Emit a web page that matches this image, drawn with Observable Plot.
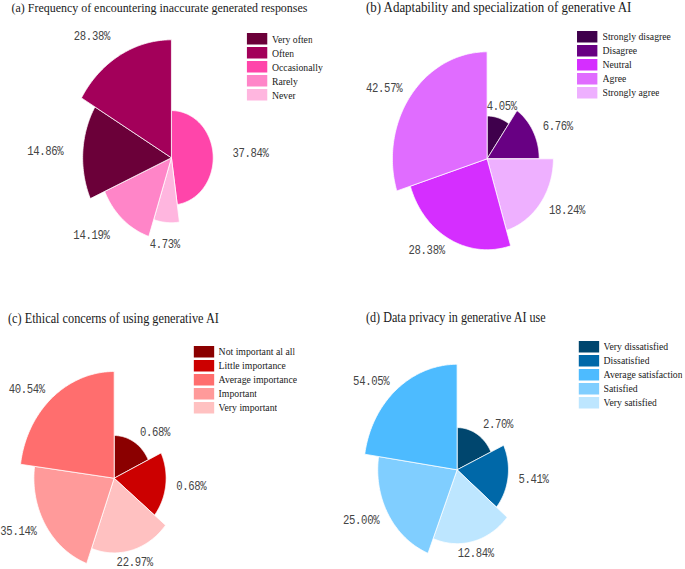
<!DOCTYPE html>
<html>
<head>
<meta charset="utf-8">
<script src="https://cdn.jsdelivr.net/npm/d3@7"></script>
<script src="https://cdn.jsdelivr.net/npm/@observablehq/plot@0.6"></script>
<style>
  body { margin: 0; background: #fff; }
  /* the source figure is squeezed horizontally, so draw wide and squeeze */
  #fig { position: relative; width: 774px; height: 569px; transform: scaleX(0.885); transform-origin: 0 0; }
  .title { position: absolute; font-family: "Liberation Serif", serif; font-size: 13.5px; line-height: 15px; color: #1a1a1a; white-space: nowrap; }
  .panel { position: absolute; }
  .leg { position: absolute; }
  .rose text { letter-spacing: -0.4px; }
</style>
</head>
<body>
<div id="fig"></div>
<script>
// (a) frequency of inaccurate responses
const catsA = ["Very often", "Often", "Occasionally", "Rarely", "Never"];
const pctA = [14.86, 28.38, 37.84, 14.19, 4.73];
const orderA = ["Occasionally", "Never", "Rarely", "Very often", "Often"];

// (b) adaptability and specialization
const catsB = ["Strongly disagree", "Disagree", "Neutral", "Agree", "Strongly agree"];
const pctB = [4.05, 6.76, 28.38, 42.57, 18.24];
const orderB = ["Strongly disagree", "Disagree", "Strongly agree", "Neutral", "Agree"];

// (c) ethical concerns
const catsC = ["Not important al all", "Little importance", "Average importance", "Important", "Very important"];
const pctC = [0.68, 0.68, 40.54, 35.14, 22.97];
const orderC = ["Not important al all", "Little importance", "Very important", "Important", "Average importance"];

// (d) data privacy
const catsD = ["Very dissatisfied", "Dissatisfied", "Average satisfaction", "Satisfied", "Very satisfied"];
const pctD = [2.70, 5.41, 54.05, 25.00, 12.84];
const orderD = ["Very dissatisfied", "Dissatisfied", "Very satisfied", "Satisfied", "Average satisfaction"];

// layout: sweep = wedge angle (deg) clockwise from 12 o'clock, R = px per radius unit
const panels = [
  {title: "(a) Frequency of encountering inaccurate generated responses", cats: catsA, pct: pctA, order: orderA,
   colors: ["#6b0039", "#a3005a", "#ff45aa", "#ff85c8", "#ffb6df"],
   sweep: [172, 26, 48, 54.5, 59.5], R: 118, pad: 22, tfs: 13.5,
   left: 0, top: 16, w: 387, h: 280, cx: 193.2, cy: 141.3, tx: 13, ty: 0, lx: 278.8, ly: 32.5},
  {title: "(b) Adaptability and specialization of generative AI", cats: catsB, pct: pctB, order: orderB,
   colors: ["#3f004c", "#680083", "#d52eff", "#e06cff", "#eeb0ff"],
   sweep: [35, 55, 73, 89.5, 107.5], R: 107, pad: 12, tfs: 14.6,
   left: 387, top: 16, w: 387, h: 280, cx: 162.9, cy: 142.3, tx: 413.6, ty: 0, lx: 652.3, ly: 30},
  {title: "(c) Ethical concerns of using generative AI", cats: catsC, pct: pctC, order: orderC,
   colors: ["#8b0000", "#cc0000", "#ff6e6e", "#ff9a9a", "#ffc1c1"],
   sweep: [64.5, 64.5, 71, 77.5, 82.5], R: 106.7, pad: 12, tfs: 13.9,
   left: 0, top: 330, w: 387, h: 239, cx: 128.5, cy: 147.7, tx: 9, ty: 311, lx: 218.5, ly: 345.2},
  {title: "(d) Data privacy in generative AI use", cats: catsD, pct: pctD, order: orderD,
   colors: ["#00466e", "#0068a8", "#4dbbff", "#80ceff", "#bde6ff"],
   sweep: [65, 65, 71.5, 77, 81.5], R: 105.5, pad: 12, tfs: 13.7,
   left: 387, top: 330, w: 387, h: 239, cx: 129, cy: 139.3, tx: 413.6, ty: 310, lx: 653.5, ly: 340}
];

const fig = d3.select("#fig");
const rad = d3.scaleLinear().domain([0, 4]).range([0.4, 1]); // position in the spiral -> radius
const fmt = d3.format(".2f");

panels.forEach(p => {
  const value = new Map(p.cats.map((c, i) => [c, p.pct[i]]));
  const pts = [], labels = [];
  let a0 = 0;
  p.order.forEach((cat, i) => {
    const a1 = a0 + p.sweep[i];
    const r = rad(i);
    pts.push({cat, x: 0, y: 0});
    const n = Math.ceil(a1 - a0);
    for (let k = 0; k <= n; k++) {
      const t = (a0 + (a1 - a0) * k / n) * Math.PI / 180;
      pts.push({cat, x: r * Math.sin(t), y: r * Math.cos(t)});
    }
    pts.push({cat, x: 0, y: 0});
    const m = (a0 + a1) / 2 * Math.PI / 180;
    const d = r + p.pad / p.R;
    const s = Math.sin(m);
    labels.push({x: d * s, y: d * Math.cos(m), text: fmt(value.get(cat)) + "%",
                 anchor: s > 0.45 ? "start" : s < -0.45 ? "end" : "middle"});
    a0 = a1;
  });

  fig.append("div").attr("class", "title")
    .style("left", p.tx + "px").style("top", p.ty + "px")
    .style("font-size", p.tfs + "px").text(p.title);

  const textOpts = {x: "x", y: "y", text: "text", fontFamily: "Liberation Mono", fontSize: 12, fill: "#444"};
  const chart = Plot.plot({
    width: p.w,
    height: p.h,
    margin: 0,
    className: "rose",
    style: {overflow: "visible", background: "transparent"},
    x: {domain: [-p.cx / p.R, (p.w - p.cx) / p.R], axis: null},
    y: {domain: [-(p.h - p.cy) / p.R, p.cy / p.R], axis: null},
    color: {domain: p.cats, range: p.colors},
    marks: [
      Plot.line(pts, {x: "x", y: "y", z: "cat", fill: "cat", stroke: "white", strokeWidth: 0.8, strokeLinejoin: "miter"}),
      ...["start", "middle", "end"].map(an =>
        Plot.text(labels.filter(l => l.anchor === an), {...textOpts, textAnchor: an}))
    ]
  });
  fig.append("div").attr("class", "panel")
    .style("left", p.left + "px").style("top", p.top + "px")
    .node().appendChild(chart);

  const leg = Plot.legend({
    color: {domain: p.cats, range: p.colors},
    legend: "swatches",
    columns: 1,
    swatchWidth: 23,
    swatchHeight: 11.5,
    className: "lg",
    style: {fontFamily: "Liberation Serif", fontSize: "11px", lineHeight: "13px", color: "#1a1a1a", margin: 0}
  });
  fig.append("div").attr("class", "leg")
    .style("left", p.lx + "px").style("top", p.ly + "px")
    .node().appendChild(leg);
});
</script>
</body>
</html>
